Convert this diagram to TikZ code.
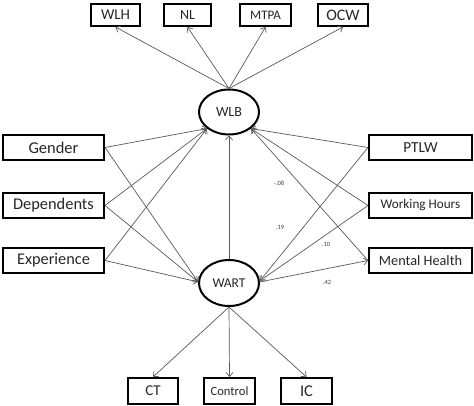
\documentclass[tikz,border=0pt]{standalone}
\usepackage{fontspec}
\setmainfont{Carlito}
\usetikzlibrary{arrows.meta,shapes.geometric}
\begin{document}
\begin{tikzpicture}[x=1pt,y=-1pt,
  box/.style={draw=black,line width=2pt,inner sep=0pt,text=black!85,font=\fontsize{15}{17}\selectfont},
  lat/.style={draw=black,ellipse,line width=2pt,inner sep=0pt,minimum width=60pt,minimum height=45pt,text=black!85,font=\fontsize{14}{16}\selectfont},
  arr/.style={draw=black!65,line width=0.7pt,-{Straight Barb[length=4pt,width=7pt,line width=0.7pt]}},
  coef/.style={inner sep=0pt,text=black!75,font=\fontsize{6.5}{7}\selectfont}]
\useasboundingbox (0,0) rectangle (474,406);
% top indicators
\node[box,minimum width=49pt,minimum height=22pt] (wlh) at (115.5,15) {WLH};
\node[box,minimum width=47pt,minimum height=22pt,font=\fontsize{14}{16}\selectfont] (nl) at (187.5,15) {NL};
\node[box,minimum width=51pt,minimum height=22pt,font=\fontsize{13}{15}\selectfont] (mtpa) at (265.5,15) {MTPA};
\node[box,minimum width=50pt,minimum height=22pt,font=\fontsize{16}{18}\selectfont] (ocw) at (343,15) {OCW};
% latent variables
\node[lat] (wlb) at (229,112) {WLB};
\node[lat,minimum height=46pt,font=\fontsize{13.5}{15}\selectfont] (wart) at (229,283) {WART};
% left boxes
\node[box,minimum width=101pt,minimum height=25pt,font=\fontsize{16.5}{18}\selectfont] (gen) at (53.5,147.5) {Gender};
\node[box,minimum width=101pt,minimum height=25pt,font=\fontsize{16.4}{18}\selectfont] (dep) at (53.5,205.5) {Dependents};
\node[box,minimum width=101pt,minimum height=25pt,font=\fontsize{16.3}{18}\selectfont] (exp) at (53.5,260.5) {Experience};
% right boxes
\node[box,minimum width=103pt,minimum height=25pt,font=\fontsize{15.3}{17}\selectfont] (ptlw) at (420.5,147.5) {PTLW};
\node[box,minimum width=103pt,minimum height=25pt,font=\fontsize{13.2}{15}\selectfont] (wh) at (420.5,205.5) {Working Hours};
\node[box,minimum width=103pt,minimum height=25pt,font=\fontsize{14.3}{16}\selectfont] (mh) at (420.5,260.5) {Mental Health};
% bottom boxes
\node[box,minimum width=50pt,minimum height=26pt] (ct) at (153,391) {CT};
\node[box,minimum width=51pt,minimum height=26pt,font=\fontsize{12.6}{14}\selectfont] (ctl) at (229.5,391) {Control};
\node[box,minimum width=51pt,minimum height=26pt,font=\fontsize{16.5}{18}\selectfont] (ic) at (306.5,391) {IC};
% WLB indicators
\draw[arr] (wlb.north) -- (wlh.south);
\draw[arr] (wlb.north) -- (nl.south);
\draw[arr] (wlb.north) -- (mtpa.south);
\draw[arr] (wlb.north) -- (ocw.south);
% WART indicators
\draw[arr] (wart.south) -- (ct.north);
\draw[arr] (wart.south) -- (ctl.north);
\draw[arr] (wart.south) -- (ic.north);
% WART -> WLB
\draw[arr] (wart.north) -- (wlb.south);
% left predictors
\foreach \s in {gen,dep,exp}{
  \draw[arr] (\s.east) -- (wlb.217);
  \draw[arr] (\s.east) -- (wart.178);
}
% right predictors
\draw[arr] (ptlw.west) -- (wlb.-37);
\draw[arr] (wh.west) -- (wlb.-37);
\draw[arr] (mh.west) -- (wlb.-37);
\draw[arr] (ptlw.west) -- (wart.4);
\draw[arr] (wh.west) -- (wart.4);
\draw[arr] (wart.2) -- (mh.west);
% coefficients
\node[coef] (c1) at (279,183) {-.08};
\node[coef] (c2) at (280,227) {.19};
\node[coef] (c3) at (326,244) {.10};
\node[coef] (c4) at (327,282) {.42};
\end{tikzpicture}
\end{document}
